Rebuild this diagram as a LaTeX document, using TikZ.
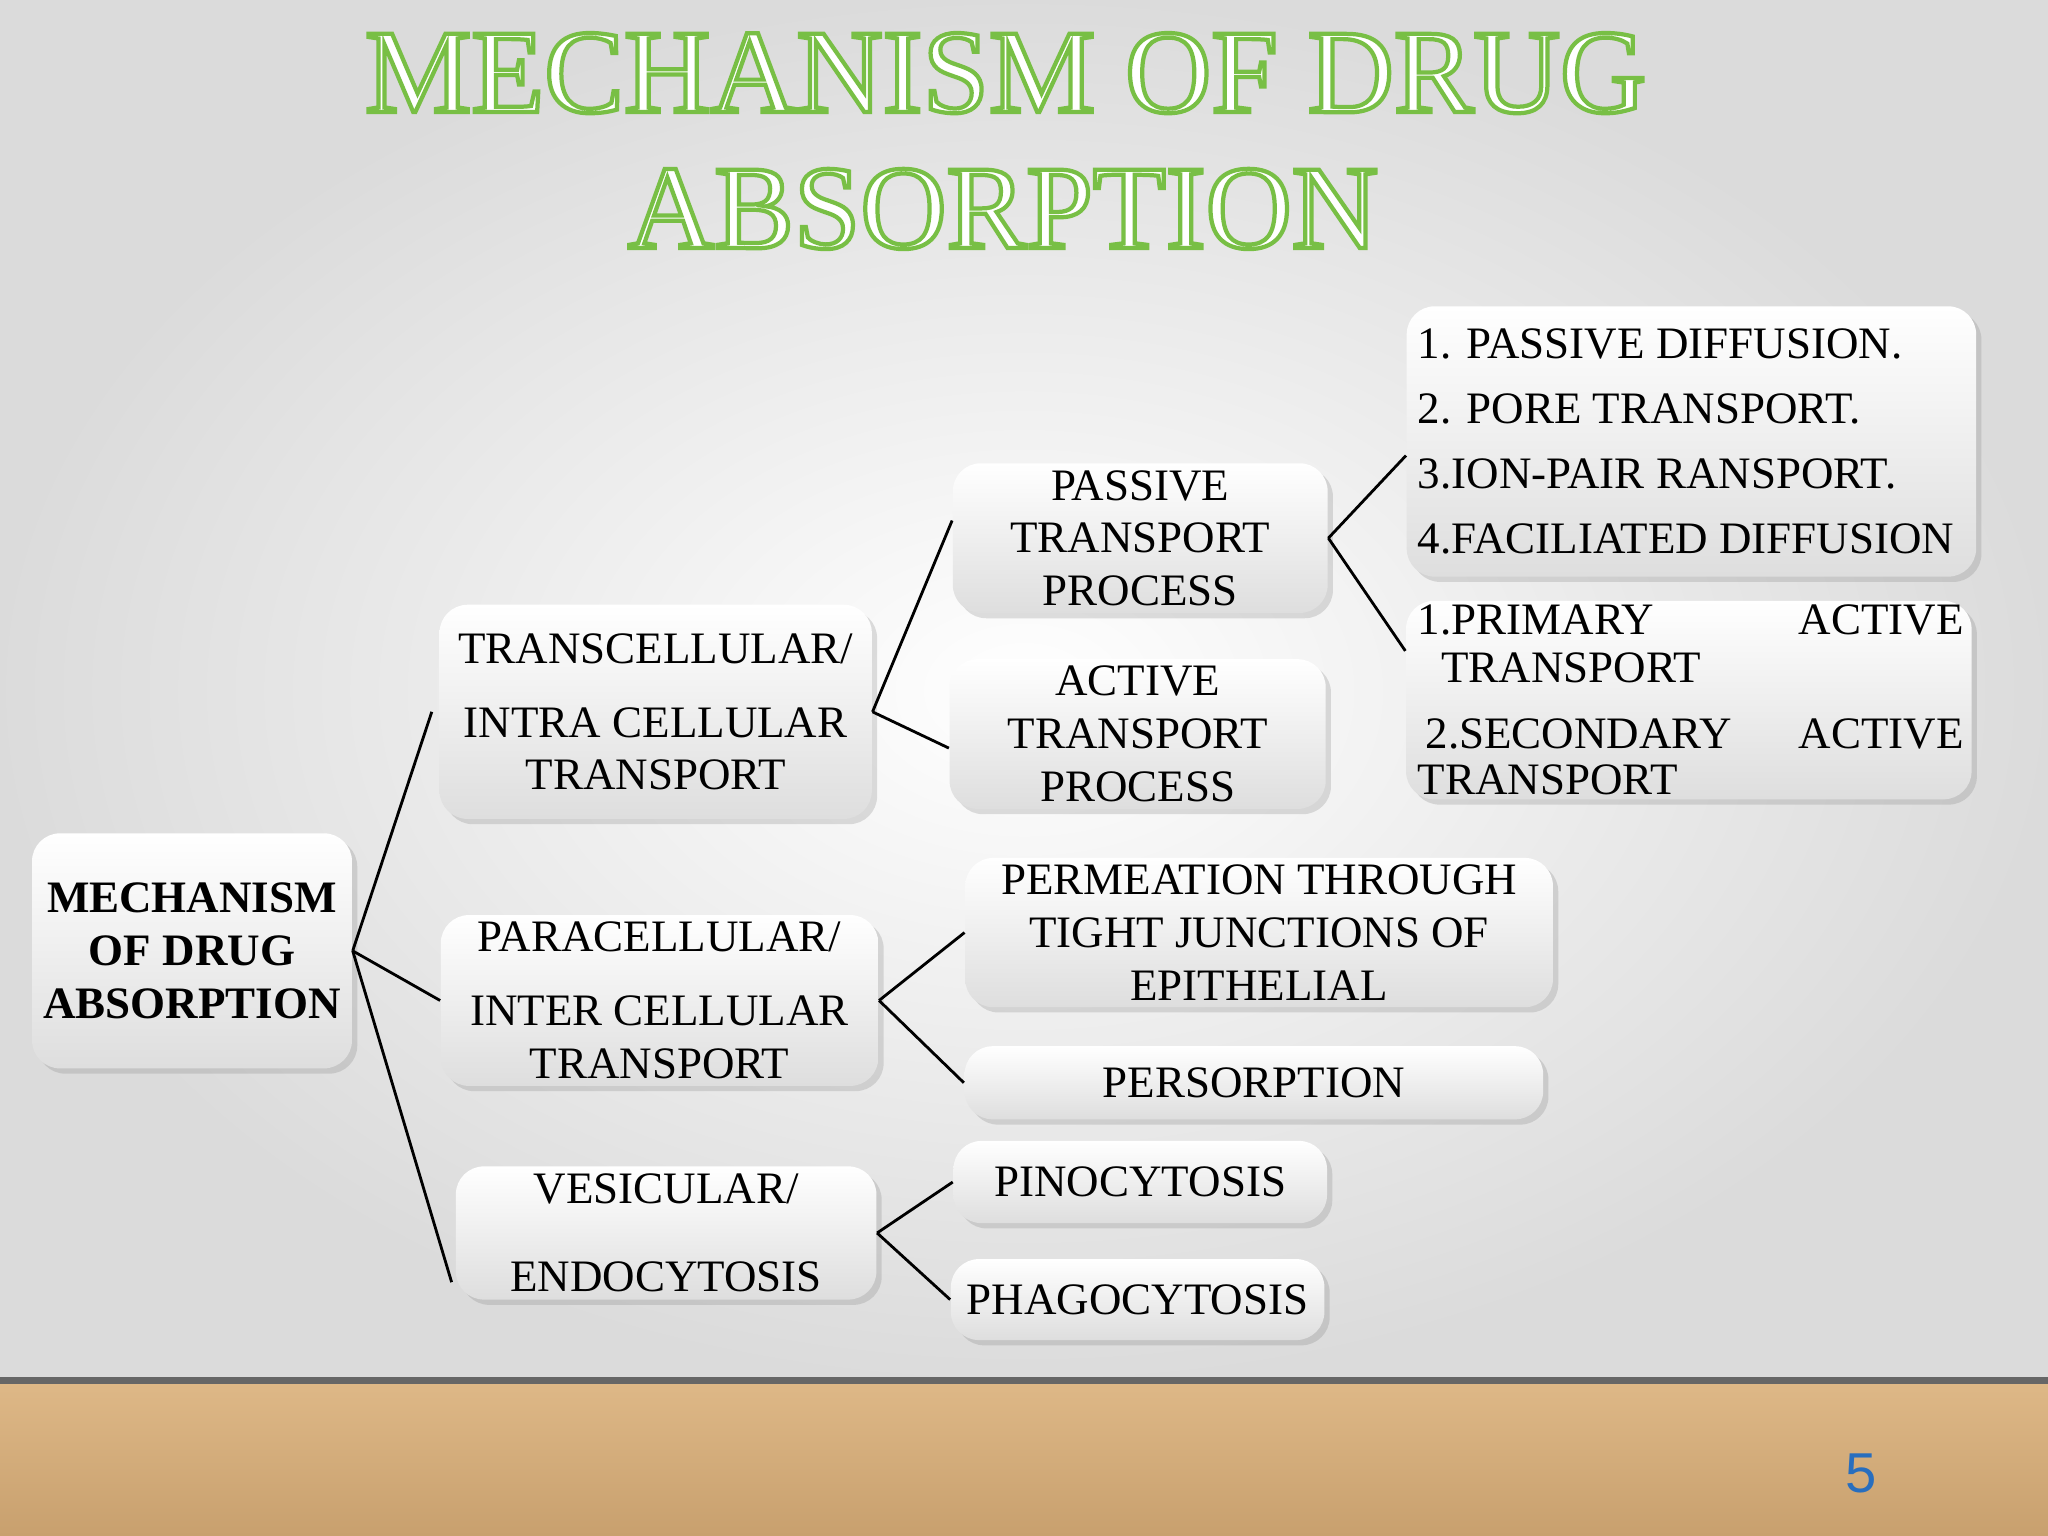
\documentclass[tikz,border=0pt]{standalone}
\usepackage{fontspec}
\setmainfont{Liberation Serif}
\newfontfamily\sansf{Liberation Sans}
\usetikzlibrary{shadows,positioning}
\definecolor{wood}{RGB}{222,184,135}
\definecolor{woodd}{RGB}{200,160,110}
\definecolor{tgreen}{RGB}{120,190,70}
\definecolor{pnum}{RGB}{40,110,190}
\newcommand{\outl}[1]{\special{pdf:literal direct 2 Tr 1.2 w 0.47 0.75 0.27 RG}#1\special{pdf:literal direct 0 Tr}}
\tikzset{
 box/.style={rounded corners=8pt, top color=white, bottom color=black!13, draw=none,
   drop shadow={shadow xshift=1.5pt,shadow yshift=-1.5pt,opacity=0.25},
   align=center, font=\fontsize{12.8}{15}\selectfont, inner sep=2pt},
 conn/.style={draw=black, line width=0.8pt},
 ltxt/.style={anchor=west, font=\fontsize{12.8}{15}\selectfont, inner sep=0pt},
 ttl/.style={text=white, font=\fontsize{34}{38}\selectfont},
}
\begin{document}
\begin{tikzpicture}[x=0.013061cm,y=-0.013061cm]
\useasboundingbox (0,0) rectangle (1568,1176);
\shade[inner color=white, outer color=black!14] (0,0) rectangle (1568,1058);
\shade[top color=wood, bottom color=woodd] (0,1058) rectangle (1568,1176);
\fill[black!60] (0,1054) rectangle (1568,1060);
% title
\node[ttl] (ti1) at (770,56) {\outl{MECHANISM OF DRUG}};
\node[ttl] (ti2) at (768,160) {\outl{ABSORPTION}};
\node[box, minimum width=245*0.013061cm, minimum height=180*0.013061cm, font=\bfseries\fontsize{12.8}{15}\selectfont] (root) at (147,728) {MECHANISM\\OF DRUG\\ABSORPTION};
\node[box, minimum width=331*0.013061cm, minimum height=164*0.013061cm] (t1) at (502,545) {TRANSCELLULAR/\\[6pt]INTRA CELLULAR\\TRANSPORT};
\node[box, minimum width=335*0.013061cm, minimum height=129*0.013061cm] (t2) at (505,766) {PARACELLULAR/\\[6pt]INTER CELLULAR\\TRANSPORT};
\node[box, minimum width=322*0.013061cm, minimum height=102*0.013061cm] (t3) at (510,944) {VESICULAR/\\[10pt]ENDOCYTOSIS};
\node[box, minimum width=287*0.013061cm, minimum height=104*0.013061cm] (p1) at (873,412) {PASSIVE\\TRANSPORT\\PROCESS};
\node[box, minimum width=288*0.013061cm, minimum height=114*0.013061cm] (p2) at (871,562) {ACTIVE\\TRANSPORT\\PROCESS};
\node[box, minimum width=450*0.013061cm, minimum height=112*0.013061cm] (p3) at (964,714) {PERMEATION THROUGH\\TIGHT JUNCTIONS OF\\EPITHELIAL};
\node[box, minimum width=443*0.013061cm, minimum height=56*0.013061cm] (p4) at (960,829) {PERSORPTION};
\node[box, minimum width=286*0.013061cm, minimum height=63*0.013061cm] (p5) at (873,905) {PINOCYTOSIS};
\node[box, minimum width=286*0.013061cm, minimum height=62*0.013061cm] (p6) at (871,995) {PHAGOCYTOSIS};
\node[box, minimum width=436*0.013061cm, minimum height=207*0.013061cm] (l1) at (1295,338) {};
\node[box, minimum width=433*0.013061cm, minimum height=152*0.013061cm] (l2) at (1293,536) {};
\node[ltxt] (a1) at (1085,263) {1. PASSIVE DIFFUSION.};
\node[ltxt] (a2) at (1085,313) {2. PORE TRANSPORT.};
\node[ltxt] (a3) at (1085,363) {3.ION-PAIR RANSPORT.};
\node[ltxt] (a4) at (1085,413) {4.FACILIATED DIFFUSION};
\node[ltxt] (b1) at (1085,475) {1.PRIMARY};
\node[ltxt, anchor=east] (b2) at (1504,475) {ACTIVE};
\node[ltxt] (b3) at (1103,511) {TRANSPORT};
\node[ltxt] (b4) at (1091,562) {2.SECONDARY};
\node[ltxt, anchor=east] (b5) at (1504,562) {ACTIVE};
\node[ltxt] (b6) at (1085,597) {TRANSPORT};
\node[font=\sansf\fontsize{16}{18}\selectfont, text=pnum] (pn) at (1425,1128) {5};
% connectors
\draw[conn] (root.east) -- ([xshift=-2pt]t1.west);
\draw[conn] (root.east) -- (t2.west);
\draw[conn] (root.east) -- ([xshift=-1pt,yshift=-14pt]t3.west);
\draw[conn] (t1.east) -- ([yshift=5pt]p1.west);
\draw[conn] (t1.east) -- ([yshift=-4pt]p2.west);
\draw[conn] (t2.east) -- (p3.west);
\draw[conn] (t2.east) -- (p4.west);
\draw[conn] (t3.east) -- (p5.west);
\draw[conn] (t3.east) -- (p6.west);
\draw[conn] (p1.east) -- ([yshift=-4pt]l1.west);
\draw[conn] (p1.east) -- ([yshift=14pt]l2.west);
\end{tikzpicture}
\end{document}
